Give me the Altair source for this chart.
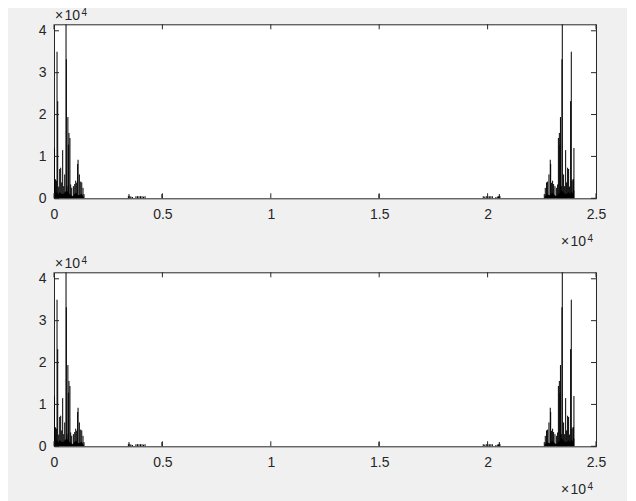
import altair as alt
import pandas as pd

N_BINS = 24000  # FFT length: the magnitude spectrum is mirrored about N/2

# strong low-frequency peaks (bin index, magnitude)
peak_bins = [18, 45, 63, 110, 140, 171, 217, 263, 309, 355, 400, 447, 494, 555, 570,
             600, 640, 663, 690, 735, 770, 816, 893, 955, 1001, 1047, 1090, 1110, 1170,
             1232, 1280, 1339, 1385]
peak_mags = [12000, 4600, 4500, 4200, 35000, 23200, 2800, 7000, 7300, 3800, 11500, 2900,
             5700, 41550, 33200, 2900, 19400, 12800, 15600, 14400, 3300, 2500, 2900, 3400,
             4200, 3700, 8200, 9200, 5700, 4000, 3800, 2500, 1000]

# dense low-level floor under the low-frequency cluster (envelope)
floor_bins = [0, 40, 90, 130, 200, 260, 330, 420, 480, 530, 600, 680, 760, 840, 900, 960,
              1020, 1080, 1150, 1220, 1290, 1350, 1400]
floor_mags = [1800, 2200, 1100, 1600, 900, 1500, 1100, 1000, 1300, 1600, 1900, 1200, 900,
              500, 700, 1100, 1300, 900, 700, 900, 1100, 400, 0]

# weak mid-band bumps
mid_bins = [3430, 3460, 3500, 3550, 3620, 3780, 3850, 3920, 3990, 4060, 4130, 4200]
mid_mags = [500, 1000, 500, 400, 300, 500, 500, 500, 500, 500, 400, 500]

# isolated small spikes
lone_bins = [4980, 14990]
lone_mags = [1000, 1000]

x_ticks = [0, 5000, 10000, 15000, 20000, 25000]
y_ticks = [0, 10000, 20000, 30000, 40000]

X_MAX = 25000
Y_MAX = 41550
W, H = 542, 174
AX = "#262626"
FONT = "Liberation Sans"

# ---- tables ----
sp_bins = peak_bins + mid_bins
sp_mags = peak_mags + mid_mags
spike_df = pd.DataFrame({
    "bin": sp_bins + [N_BINS - b for b in sp_bins] + lone_bins,
    "mag": sp_mags + sp_mags + lone_mags,
})
floor_df = pd.DataFrame({
    "bin": floor_bins + [N_BINS - b for b in floor_bins],
    "mag": floor_mags + floor_mags,
    "side": ["L"] * len(floor_bins) + ["R"] * len(floor_bins),
})
xt_df = pd.DataFrame({"v": x_ticks})
yt_df = pd.DataFrame({"v": y_ticks})
txt_df = pd.DataFrame({"t": ["x"]})


def exponent(x0, y0):
    """'x10^4' label; x0 = left edge of the group, y0 = baseline of '10'."""
    a = alt.Chart(txt_df).mark_text(text="\u00d7", align="left", baseline="alphabetic",
                                    fontSize=14, font=FONT, color=AX).encode(
        x=alt.value(x0), y=alt.value(y0))
    b = alt.Chart(txt_df).mark_text(text="10", align="left", baseline="alphabetic",
                                    fontSize=14, font=FONT, color=AX).encode(
        x=alt.value(x0 + 9.5), y=alt.value(y0))
    c = alt.Chart(txt_df).mark_text(text="4", align="left", baseline="alphabetic",
                                    fontSize=10, font=FONT, color=AX).encode(
        x=alt.value(x0 + 26.5), y=alt.value(y0 - 4))
    return [a, b, c]


def panel():
    xs = alt.Scale(domain=[0, X_MAX], nice=False, zero=False)
    ys = alt.Scale(domain=[0, Y_MAX], nice=False, zero=False)
    xaxis = alt.Axis(values=x_ticks, labelExpr="datum.value / 10000 + ''", ticks=False,
                     domain=False, grid=False, title=None, labelFontSize=14,
                     labelColor=AX, labelFont=FONT, labelPadding=9, labelFlush=False)
    yaxis = alt.Axis(values=y_ticks, labelExpr="datum.value / 10000 + ''", ticks=False,
                     domain=False, grid=False, title=None, labelFontSize=14,
                     labelColor=AX, labelFont=FONT, labelPadding=8, labelFlush=False)
    floor = alt.Chart(floor_df).mark_area(color="black", clip=True, interpolate="linear").encode(
        x=alt.X("bin:Q", scale=xs, axis=xaxis),
        y=alt.Y("mag:Q", scale=ys, axis=yaxis),
        detail="side:N",
    )
    spikes = alt.Chart(spike_df).mark_rule(color="black", strokeWidth=1, clip=True).encode(
        x=alt.X("bin:Q", scale=xs, axis=xaxis),
        y=alt.Y("mag:Q", scale=ys, axis=yaxis),
        y2=alt.datum(0),
    )
    tb = alt.Chart(xt_df).mark_rule(color=AX, strokeWidth=1).encode(
        x=alt.X("v:Q", scale=xs, axis=xaxis), y=alt.value(H - 5), y2=alt.value(H))
    tt = alt.Chart(xt_df).mark_rule(color=AX, strokeWidth=1).encode(
        x=alt.X("v:Q", scale=xs, axis=xaxis), y=alt.value(0), y2=alt.value(5))
    tl = alt.Chart(yt_df).mark_rule(color=AX, strokeWidth=1).encode(
        y=alt.Y("v:Q", scale=ys, axis=yaxis), x=alt.value(0), x2=alt.value(5))
    tr = alt.Chart(yt_df).mark_rule(color=AX, strokeWidth=1).encode(
        y=alt.Y("v:Q", scale=ys, axis=yaxis), x=alt.value(W - 5), x2=alt.value(W))
    texts = exponent(1, -4) + exponent(W - 35, H + 48)
    return alt.layer(floor, spikes, tb, tt, tl, tr, *texts).properties(width=W, height=H)


chart = alt.vconcat(panel(), panel(), spacing=74, bounds="flush").properties(
    background="#f0f0f0",
    padding={"left": 29, "top": -0.7, "right": 20, "bottom": 10},
).configure_view(stroke=AX, strokeWidth=1, fill="white")

chart.save("out.html", embed_options={"renderer": "svg", "actions": False})
